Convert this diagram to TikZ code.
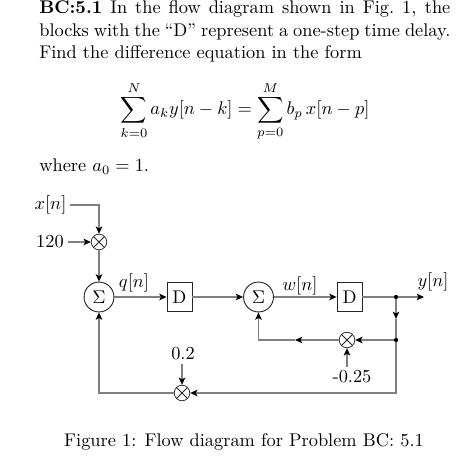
\documentclass[tikz,border=0pt]{standalone}
\usetikzlibrary{arrows.meta}
\begin{document}
\begin{tikzpicture}[x=0.545pt,y=-0.545pt,
  sig/.style={draw=black!85, line width=0.5pt, circle, minimum size=16.3pt, inner sep=0pt},
  dly/.style={draw=black!85, line width=0.5pt, minimum width=13.6pt, minimum height=16.3pt, inner sep=0pt},
  mult/.style={draw=black!85, line width=0.4pt, circle, minimum size=8.5pt, inner sep=0pt,
    path picture={\draw[black!85,line width=0.4pt]
      (path picture bounding box.north west) -- (path picture bounding box.south east)
      (path picture bounding box.north east) -- (path picture bounding box.south west);}},
  wire/.style={draw=black!50, line width=0.7pt},
  arr/.style={wire, -{Stealth[length=4pt,width=3.6pt,inset=1pt,color=black]}},
  jdot/.style={circle, fill=black, inner sep=0pt, minimum size=2.2pt},
  lbl/.style={inner sep=2pt}
]
\useasboundingbox (0,0) rectangle (465,474);

% problem text
\node[anchor=base west, text width=224pt, inner sep=0pt, align=justify] (para) at (39,14)
  {\textbf{BC:5.1} In the flow diagram shown in Fig.~1, the\linebreak
   blocks with the ``D'' represent a one-step time delay.\linebreak
   Find the difference equation in the form};
\node[anchor=base, inner sep=0pt] (eq) at (245,115)
  {$\displaystyle\sum_{k=0}^{N} a_k y[n-k] = \sum_{p=0}^{M} b_p\, x[n-p]$};
\node[anchor=base west, inner sep=0pt] (where) at (39,172) {where $a_0 = 1$.};

% diagram nodes
\node[lbl] (xn) at (50.5,205) {$x[n]$};
\node[lbl] (n120) at (50,242) {120};
\node[mult] (m1) at (99,242) {};
\node[sig] (s1) at (99,297) {$\Sigma$};
\node[dly] (d1) at (179.5,297) {D};
\node[sig] (s2) at (258.5,297) {$\Sigma$};
\node[dly] (d2) at (349.5,297) {D};
\node[jdot] (j1) at (396,297) {};
\node[jdot] (j2) at (396,340) {};
\coordinate (out) at (424,297);
\coordinate (mid) at (396,319);
\node[mult] (m2) at (347,340) {};
\coordinate (fb2) at (295,340);
\node[mult] (m3) at (182,393) {};
\node[lbl] (l02) at (183,354) {0.2};
\node[lbl] (l025) at (352,377) {-0.25};
\node[lbl] (qn) at (134,283) {$q[n]$};
\node[lbl] (wn) at (300,285.5) {$w[n]$};
\node[lbl] (yn) at (433,281.5) {$y[n]$};

% connectors
\draw[arr] (xn.east) -| (m1.north);
\draw[arr] (n120.east) -- (m1.west);
\draw[arr] (m1.south) -- (s1.north);
\draw[arr] (s1.east) -- (d1.west);
\draw[arr] (d1.east) -- (s2.west);
\draw[arr] (s2.east) -- (d2.west);
\draw[wire] (d2.east) -- (j1.center);
\draw[arr] (j1.center) -- (out);
\draw[arr] (j1.center) -- (mid);
\draw[wire] (mid) -- (j2.center);
\draw[arr] (j2.center) -- (m2.east);
\draw[arr] (m2.west) -- (fb2);
\draw[arr] (fb2) -| (s2.south);
\draw[arr] (l025.north -| m2.south) -- (m2.south);
\draw[arr] (j2.center) |- (m3.east);
\draw[arr] (l02.south -| m3.north) -- (m3.north);
\draw[arr] (m3.west) -| (s1.south);
\node[jdot] at (j1) {};
\node[jdot] at (j2) {};

% caption
\node[anchor=base, inner sep=0pt] (cap) at (244,446) {Figure 1: Flow diagram for Problem BC: 5.1};
\end{tikzpicture}
\end{document}
